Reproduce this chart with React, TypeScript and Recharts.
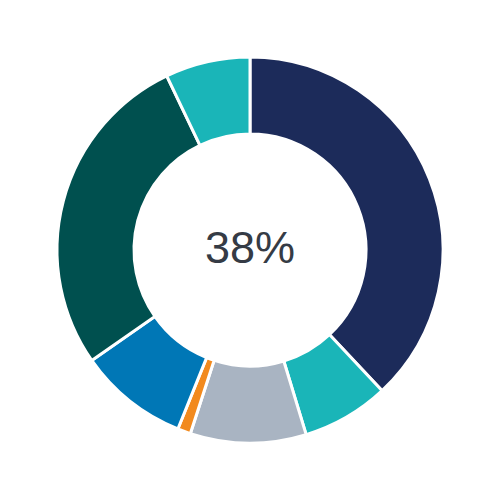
import React from "react";
import { PieChart, Pie, Cell } from "recharts";

const categories = ["A", "B", "C", "D", "E", "F", "G"];
const values = [38, 7.3, 9.7, 1.1, 9.2, 27.6, 7.1];
const colors = ["#1c2b5a", "#1ab5b8", "#a9b4c2", "#f28a1e", "#0077b6", "#00504f", "#1ab5b8"];
const centerLabel = "38%";

const data = categories.map((name, i) => ({ name, value: values[i] }));

export default function App() {
  return (
    <div style={{ position: "absolute", left: 0, top: 0, width: 500, height: 500, background: "#fff" }}>
      <PieChart width={500} height={500} margin={{ top: 0, right: 0, bottom: 0, left: 0 }}>
        <Pie
          data={data}
          dataKey="value"
          nameKey="name"
          cx={250}
          cy={250}
          innerRadius={116}
          outerRadius={193}
          startAngle={90}
          endAngle={-270}
          stroke="#ffffff"
          strokeWidth={3}
          isAnimationActive={false}
        >
          {data.map((d, i) => (
            <Cell key={d.name + i} fill={colors[i]} />
          ))}
        </Pie>
        <text
          x={250}
          y={247}
          textAnchor="middle"
          dominantBaseline="central"
          fontFamily="Liberation Sans, Arial, sans-serif"
          fontSize={45}
          fill="#353b45"
        >
          {centerLabel}
        </text>
      </PieChart>
    </div>
  );
}
